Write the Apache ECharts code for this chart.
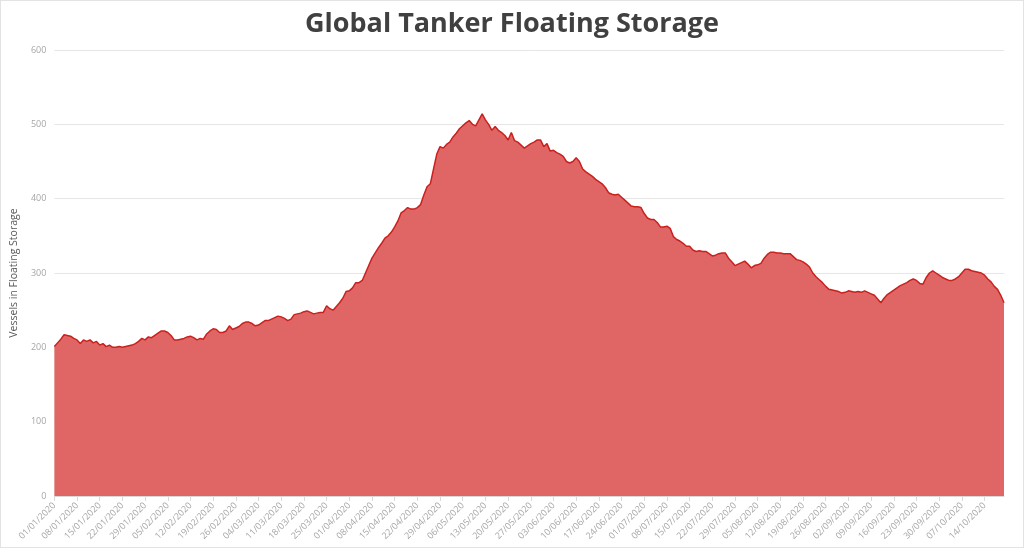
<!DOCTYPE html>
<html><head><meta charset="utf-8">
<script src="https://cdn.jsdelivr.net/npm/echarts@6/dist/echarts.min.js"></script>
<style>html,body{margin:0;padding:0;background:#fff}#c{width:1022px;height:546px;border:1px solid #e3e3e3}</style>
</head><body><div id="c"></div>
<script>
const startDate = [2020, 0, 1];
const vessels = [
201,206,211,217,216,215,212,210,205,210,
208,210,206,208,203,205,201,203,200,200,
201,200,201,202,203,205,208,212,210,214,
213,216,219,222,222,220,216,210,210,211,
212,214,215,213,210,212,211,218,222,225,
224,220,220,222,229,224,226,228,232,234,
234,232,229,230,233,236,236,238,240,242,
241,239,236,238,244,245,246,248,249,247,
245,246,247,247,256,252,250,255,260,266,
275,276,280,287,287,290,300,310,320,327,
334,340,347,350,355,362,370,381,384,388,
386,386,388,392,405,416,420,440,460,470,
468,473,476,483,488,494,498,502,505,500,
498,506,514,506,500,492,497,492,489,485,
479,489,478,476,472,468,471,474,476,479,
479,470,474,464,465,462,460,457,450,448,
450,455,450,440,436,433,430,426,423,420,
415,408,406,405,406,402,398,394,390,389,
389,388,380,374,372,372,368,362,362,363,
360,349,345,343,340,336,336,331,329,330,
329,329,326,323,324,326,327,327,320,315,
310,312,314,316,312,307,310,311,313,320,
325,328,328,327,327,326,326,326,322,318,
317,315,312,308,300,295,291,287,282,278,
277,276,275,273,274,276,275,274,275,274,
276,274,272,270,265,260,266,271,274,277,
280,283,285,287,290,292,290,286,285,294,
300,303,300,297,294,292,290,290,292,295,
300,305,305,303,302,301,300,297,292,288,
282,278,270,260];
const yTicks = [0,100,200,300,400,500,600];
const dates = vessels.map((v,i)=>{
  const d = new Date(startDate[0], startDate[1], startDate[2]+i);
  const p = n => String(n).padStart(2,'0');
  return p(d.getDate())+'/'+p(d.getMonth()+1)+'/'+d.getFullYear();
});
const chart = echarts.init(document.getElementById('c'));
chart.setOption({
  animation:false,
  title:{text:'Global Tanker Floating Storage',left:'center',top:5,
    textStyle:{fontFamily:'Open Sans',fontWeight:'bold',fontSize:27,color:'#404040'}},
  grid:{left:49,right:19,top:49,bottom:51},
  xAxis:{type:'category',data:dates,boundaryGap:false,
    axisLine:{lineStyle:{color:'#d9d9d9'}},
    axisTick:{show:true,interval:6,lineStyle:{color:'#d9d9d9'}},
    axisLabel:{interval:6,rotate:45,fontSize:9,color:'#a6a6a6',fontFamily:'Open Sans'}},
  yAxis:{type:'value',min:yTicks[0],max:yTicks[yTicks.length-1],interval:100,
    name:'Vessels in Floating Storage',nameLocation:'middle',nameGap:26,
    nameTextStyle:{fontSize:10.5,color:'#595959',fontFamily:'Open Sans'},
    axisLine:{show:false},axisTick:{show:false},
    axisLabel:{fontSize:9,color:'#a6a6a6',fontFamily:'Open Sans'},
    splitLine:{lineStyle:{color:'#e6e6e6'}}},
  series:[{type:'line',data:vessels,symbol:'none',
    lineStyle:{color:'#c9211e',width:1.5},
    areaStyle:{color:'#e06666',opacity:1}}]
});
</script></body></html>
